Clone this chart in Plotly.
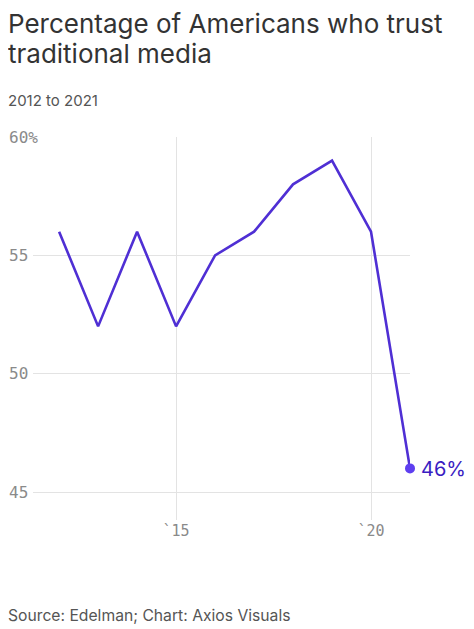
import plotly.graph_objects as go

# Edelman trust barometer, share of Americans who trust traditional media
years = [2012, 2013, 2014, 2015, 2016, 2017, 2018, 2019, 2020, 2021]
trust_pct = [56, 52, 56, 52, 55, 56, 58, 59, 56, 46]
y_ticks = [45, 50, 55, 60]
y_tick_labels = ["45", "50", "55", "60%"]
x_ticks = [2015, 2020]
x_tick_labels = ["`15", "`20"]

line_color = "#4f2fd4"
dot_color = "#5e3ff0"
label_color = "#3a1dc2"
mono = "DejaVu Sans Mono"
sans = "Inter"

# the page body adds 8px, so the figure is 8px smaller than the window
W, H = 466, 621
L, R, T, B = 25, 64, 129, 109
plot_h = H - T - B


def paper_y(px):
    # figure pixel (from top) -> paper y
    return (H - B - px) / plot_h


fig = go.Figure()
fig.add_trace(go.Scatter(
    x=years,
    y=trust_pct,
    mode="lines",
    line=dict(color=line_color, width=2.6),
    hoverinfo="skip",
    cliponaxis=False,
))
fig.add_trace(go.Scatter(
    x=[years[-1]],
    y=[trust_pct[-1]],
    mode="markers",
    marker=dict(color=dot_color, size=10),
    hoverinfo="skip",
    cliponaxis=False,
))

annotations = []
# y tick labels, left aligned against the edge of the picture
for v, t in zip(y_ticks, y_tick_labels):
    annotations.append(dict(
        x=0, xref="paper", xanchor="left", xshift=-L - 1,
        y=v, yref="y", yanchor="middle",
        text=t, showarrow=False, bgcolor="white",
        font=dict(family=mono, size=16, color="#8a8a8a"),
    ))

# end label next to the last point
annotations.append(dict(
    x=years[-1], xref="x", xanchor="left", xshift=9,
    y=trust_pct[-1], yref="y", yanchor="middle", yshift=-1,
    text=f"{trust_pct[-1]}%", showarrow=False,
    font=dict(family=sans, size=20, color=label_color),
))

annotations += [
    dict(x=0, xref="paper", xshift=-L - 2, xanchor="left",
         y=paper_y(15), yref="paper", yanchor="middle",
         text="Percentage of Americans who trust", showarrow=False,
         font=dict(family=sans, size=26, color="#333333")),
    dict(x=0, xref="paper", xshift=-L - 2, xanchor="left",
         y=paper_y(46), yref="paper", yanchor="middle",
         text="traditional media", showarrow=False,
         font=dict(family=sans, size=26, color="#333333")),
    dict(x=0, xref="paper", xshift=-L - 2, xanchor="left",
         y=paper_y(92), yref="paper", yanchor="middle",
         text="2012 to 2021", showarrow=False,
         font=dict(family=sans, size=15, color="#555555")),
    dict(x=0, xref="paper", xshift=-L - 2, xanchor="left",
         y=paper_y(607), yref="paper", yanchor="middle",
         text="Source: Edelman; Chart: Axios Visuals", showarrow=False,
         font=dict(family=sans, size=15.7, color="#555555")),
]

fig.update_layout(
    width=W,
    height=H,
    margin=dict(l=L, r=R, t=T, b=B),
    paper_bgcolor="white",
    plot_bgcolor="white",
    showlegend=False,
    annotations=annotations,
    xaxis=dict(
        range=[2011.33, 2021],
        tickvals=x_ticks,
        ticktext=x_tick_labels,
        showgrid=True,
        gridcolor="#e3e3e3",
        gridwidth=1,
        zeroline=False,
        showline=False,
        ticks="",
        tickfont=dict(family=mono, size=15, color="#8a8a8a"),
        fixedrange=True,
    ),
    yaxis=dict(
        range=[43.82, 60],
        tickvals=y_ticks,
        showticklabels=False,
        showgrid=True,
        gridcolor="#e3e3e3",
        gridwidth=1,
        zeroline=False,
        showline=False,
        ticks="",
        fixedrange=True,
    ),
)

fig.write_html("out.html")
